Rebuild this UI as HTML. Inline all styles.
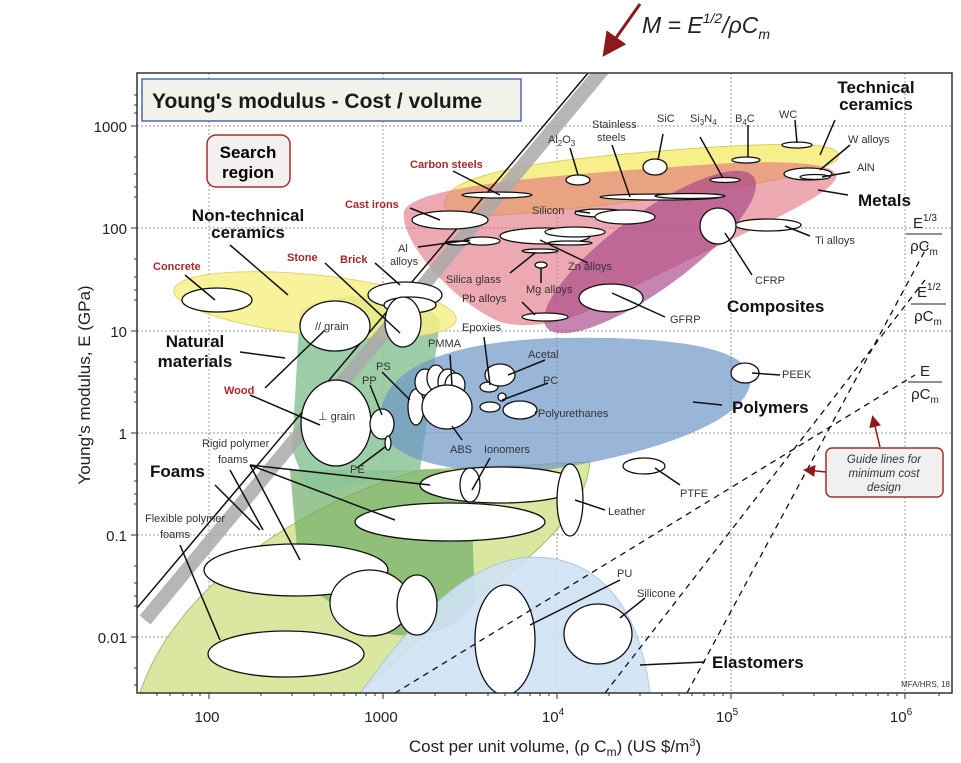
<!DOCTYPE html>
<html><head><meta charset="utf-8"><style>
body{margin:0;background:#fff}
svg{display:block;font-family:"Liberation Sans",sans-serif}
.l{font-size:11px;fill:#333}
.r{font-size:11px;fill:#a52a2a;font-weight:bold}
.b{font-size:17px;font-weight:bold;fill:#111}
.e{fill:#fff;stroke:#111;stroke-width:1.3}
.ld{stroke:#111;stroke-width:1.5;fill:none}
.g{stroke:#999;stroke-width:1;stroke-dasharray:2,2}
.d{stroke:#111;stroke-width:1.3;stroke-dasharray:6,5;fill:none}
</style></head><body>
<svg width="961" height="763" viewBox="0 0 961 763">
<defs><clipPath id="c"><rect x="137" y="73" width="815" height="620"/></clipPath>
<marker id="ar" markerWidth="8" markerHeight="8" refX="6" refY="4" orient="auto"><path d="M0,0 L8,4 L0,8 Z" fill="#8b1a1a"/></marker></defs>
<g class="g">
<line x1="209" y1="73" x2="209" y2="693"/><line x1="383" y1="73" x2="383" y2="693"/><line x1="557" y1="73" x2="557" y2="693"/><line x1="731" y1="73" x2="731" y2="693"/><line x1="905" y1="73" x2="905" y2="693"/>
<line x1="137" y1="126" x2="952" y2="126"/><line x1="137" y1="228" x2="952" y2="228"/><line x1="137" y1="331" x2="952" y2="331"/><line x1="137" y1="433" x2="952" y2="433"/><line x1="137" y1="535" x2="952" y2="535"/><line x1="137" y1="637" x2="952" y2="637"/>
</g>
<g clip-path="url(#c)">
<!-- foams -->
<path d="M140,693 C170,600 280,510 420,470 L590,462 C585,520 520,570 430,630 L360,693 Z" fill="#d6e597" stroke="#9bb36a" opacity="0.9"/>
<path d="M290,470 L470,470 L475,600 C460,640 380,650 340,610 L300,580 Z" fill="#6fae68" opacity="0.7"/>
<!-- elastomers -->
<path d="M360,693 C400,640 450,570 520,558 C600,550 640,610 650,693 Z" fill="#cfe2f5" stroke="#a8c4e0" opacity="0.9"/>
<!-- natural -->
<path d="M300,310 C330,290 420,290 440,320 L430,400 L420,470 L310,495 L292,450 Z" fill="#8cc497" opacity="0.85"/>
<!-- non-tech ceramics -->
<ellipse cx="315" cy="305" rx="142" ry="30" transform="rotate(6 315 305)" fill="#f7f08a" opacity="0.85" stroke="#d8cf60"/>
<!-- polymers -->
<path d="M380,420 C380,360 470,340 560,338 C660,336 760,345 750,385 C740,430 620,460 545,470 L470,470 C420,465 380,450 380,420 Z" fill="#6e95c8" opacity="0.7"/>
<!-- technical ceramics / metals -->
<path d="M445,200 C455,170 560,158 700,148 C790,142 845,142 838,158 C830,175 700,195 560,210 C480,218 440,220 445,200 Z" fill="#f7f08a" stroke="#d8cf60"/>
<path d="M404,212 C410,185 560,175 700,165 C800,158 845,165 835,180 C820,205 700,250 600,305 C570,322 530,330 500,322 C450,300 400,240 404,212 Z" fill="#e0707e" opacity="0.6"/>
<ellipse cx="650" cy="252" rx="128" ry="38" transform="rotate(-36 650 252)" fill="#a84385" opacity="0.65"/>
<!-- band -->
<line x1="145" y1="620" x2="604" y2="68" stroke="#aaa" stroke-width="14" opacity="0.85"/>
<line x1="137" y1="608" x2="594" y2="66" stroke="#111" stroke-width="1.5"/>
<!-- ellipses -->
<g class="e">
<ellipse cx="578" cy="180" rx="12" ry="5"/><ellipse cx="655" cy="167" rx="12" ry="8"/><ellipse cx="725" cy="180" rx="15" ry="2.5"/><ellipse cx="746" cy="160" rx="14" ry="3"/><ellipse cx="797" cy="145" rx="15" ry="3"/>
<ellipse cx="808" cy="174" rx="24" ry="6"/><ellipse cx="815" cy="177" rx="15" ry="2.5"/>
<ellipse cx="497" cy="195" rx="35" ry="3"/><ellipse cx="660" cy="197" rx="60" ry="3"/><ellipse cx="690" cy="196" rx="35" ry="2.5"/>
<ellipse cx="600" cy="213" rx="25" ry="4"/><ellipse cx="625" cy="217" rx="30" ry="7"/>
<ellipse cx="450" cy="220" rx="38" ry="9"/><ellipse cx="482" cy="241" rx="18" ry="4"/><ellipse cx="458" cy="243" rx="12" ry="2"/>
<ellipse cx="545" cy="236" rx="45" ry="8"/><ellipse cx="575" cy="232" rx="30" ry="5"/><ellipse cx="570" cy="243" rx="22" ry="2"/>
<ellipse cx="540" cy="251" rx="18" ry="2"/><ellipse cx="541" cy="265" rx="6" ry="3"/><ellipse cx="545" cy="317" rx="23" ry="4"/>
<ellipse cx="611" cy="298" rx="32" ry="14"/><ellipse cx="768" cy="225" rx="33" ry="6"/><ellipse cx="718" cy="226" rx="18" ry="18"/>
<ellipse cx="745" cy="373" rx="14" ry="10"/>
<ellipse cx="217" cy="300" rx="35" ry="12"/><ellipse cx="405" cy="295" rx="37" ry="13"/><ellipse cx="410" cy="305" rx="26" ry="8"/><ellipse cx="403" cy="322" rx="18" ry="25"/>
<ellipse cx="335" cy="326" rx="35" ry="25"/><ellipse cx="336" cy="423" rx="35" ry="43"/>
<ellipse cx="382" cy="424" rx="12" ry="15"/><ellipse cx="388" cy="443" rx="3" ry="7"/><ellipse cx="416" cy="407" rx="8" ry="18"/>
<ellipse cx="425" cy="382" rx="10" ry="13"/><ellipse cx="436" cy="378" rx="9" ry="13"/><ellipse cx="448" cy="382" rx="10" ry="13"/><ellipse cx="455" cy="385" rx="10" ry="12"/>
<ellipse cx="447" cy="407" rx="25" ry="22"/><ellipse cx="489" cy="387" rx="9" ry="5"/><ellipse cx="502" cy="397" rx="4" ry="4"/>
<ellipse cx="500" cy="375" rx="15" ry="11"/><ellipse cx="490" cy="407" rx="10" ry="5"/><ellipse cx="520" cy="410" rx="17" ry="9"/>
<ellipse cx="644" cy="466" rx="21" ry="8"/>
<ellipse cx="500" cy="485" rx="80" ry="18"/><ellipse cx="470" cy="485" rx="10" ry="17"/><ellipse cx="570" cy="500" rx="13" ry="36"/>
<ellipse cx="450" cy="522" rx="95" ry="19"/><ellipse cx="296" cy="570" rx="92" ry="26"/>
<ellipse cx="370" cy="603" rx="40" ry="33"/><ellipse cx="417" cy="605" rx="20" ry="30"/><ellipse cx="286" cy="654" rx="78" ry="23"/>
<ellipse cx="505" cy="640" rx="30" ry="55"/><ellipse cx="598" cy="634" rx="34" ry="30"/>
</g>
<!-- guide lines -->
<line class="d" x1="395" y1="693" x2="915" y2="375"/>
<line class="d" x1="605" y1="693" x2="925" y2="280"/>
<line class="d" x1="687" y1="693" x2="928" y2="245"/>
</g>
<rect x="137" y="73" width="815" height="620" fill="none" stroke="#333" stroke-width="1.5"/>
<!-- ticks -->
<g stroke="#333" stroke-width="1">
<path d="M137,126h-6M137,228h-6M137,331h-6M137,433h-6M137,535h-6M137,637h-6"/>
<path d="M209,693v6M383,693v6M557,693v6M731,693v6M905,693v6"/>
<path d="M157,693v3M170,693v3M183,693v3M192,693v3M200,693v3M261,693v3M292,693v3M314,693v3M331,693v3M344,693v3M356,693v3M366,693v3M375,693v3M435,693v3M466,693v3M488,693v3M505,693v3M518,693v3M530,693v3M540,693v3M549,693v3M609,693v3M640,693v3M662,693v3M679,693v3M692,693v3M704,693v3M714,693v3M723,693v3M783,693v3M814,693v3M836,693v3M853,693v3M866,693v3M878,693v3M888,693v3M897,693v3M939,693v3"/>
<path d="M137,95h-3M137,105h-3M137,113h-3M137,157h-3M137,174h-3M137,187h-3M137,197h-3M137,259h-3M137,277h-3M137,290h-3M137,300h-3M137,362h-3M137,379h-3M137,392h-3M137,402h-3M137,464h-3M137,481h-3M137,494h-3M137,504h-3M137,566h-3M137,583h-3M137,596h-3M137,606h-3M137,668h-3M137,685h-3"/>
</g>
<g font-size="15" fill="#222" text-anchor="end">
<text x="127" y="132">1000</text><text x="127" y="234">100</text><text x="127" y="337">10</text><text x="127" y="439">1</text><text x="127" y="541">0.1</text><text x="127" y="643">0.01</text>
</g>
<g font-size="15" fill="#222" text-anchor="middle">
<text x="207" y="722">100</text><text x="381" y="722">1000</text><text x="553" y="722">10<tspan dy="-7" font-size="10">4</tspan></text><text x="727" y="722">10<tspan dy="-7" font-size="10">5</tspan></text><text x="901" y="722">10<tspan dy="-7" font-size="10">6</tspan></text>
</g>
<text x="555" y="752" font-size="17" fill="#222" text-anchor="middle">Cost per unit volume, (ρ C<tspan font-size="12" dy="4">m</tspan><tspan dy="-4">)    (US $/m</tspan><tspan font-size="11" dy="-6">3</tspan><tspan dy="6">)</tspan></text>
<text transform="translate(90,385) rotate(-90)" font-size="17" fill="#222" text-anchor="middle">Young's modulus, E (GPa)</text>
<!-- top arrow & formula -->
<line x1="640" y1="4" x2="606" y2="52" stroke="#8b1a1a" stroke-width="3" marker-end="url(#ar)"/>
<text x="642" y="33" font-size="23" fill="#222" font-style="italic">M = E<tspan font-size="14" dy="-10">1/2</tspan><tspan dy="10">/ρC</tspan><tspan font-size="14" dy="6">m</tspan></text>
<!-- title -->
<rect x="142" y="79" width="379" height="42" fill="#f2f2ea" stroke="#4a6ab0" stroke-width="1.5"/>
<text x="152" y="108" font-size="21" font-weight="bold" fill="#1a1a1a">Young's modulus - Cost / volume</text>
<rect x="207" y="135" width="83" height="52" rx="9" fill="#f4f0f0" stroke="#a03030" stroke-width="1.5"/>
<text x="248" y="158" font-size="17" font-weight="bold" text-anchor="middle">Search</text><text x="248" y="178" font-size="17" font-weight="bold" text-anchor="middle">region</text>
<!-- leaders -->
<g class="ld">
<path d="M453,171L500,195M410,208L440,220M418,247L470,240M325,263L400,333M375,263L400,285M185,275L215,300M230,245L288,295M240,352L285,358M265,388L325,330M250,395L320,425M370,385L382,415M382,372L410,400M357,468L385,447M450,355L452,385M484,337L490,385M545,360L508,375M548,383L502,400M535,413L537,411M462,440L452,426M490,458L472,490M250,465L430,485M250,465L395,520M250,465L300,560M230,470L263,530M215,485L260,530M180,545L220,640M605,510L575,500M680,485L655,468M620,580L530,625M645,598L620,618M640,665L705,662M693,402L722,405M780,375L752,373M752,275L725,233M665,317L612,293M810,236L785,226M848,195L818,190M835,120L820,155M850,145L820,170M850,172L822,177M795,120L797,143M748,125L748,157M700,137L723,178M663,134L658,160M612,145L630,197M570,148L578,175M575,211L590,213M588,263L540,240M510,273L535,253M541,268L541,283M522,302L535,315"/>
</g>
<!-- labels -->
<text class="r" x="410" y="168">Carbon steels</text><text class="r" x="345" y="208">Cast irons</text>
<text class="l" x="398" y="252">Al</text><text class="l" x="390" y="265">alloys</text>
<text class="r" x="287" y="261">Stone</text><text class="r" x="340" y="263">Brick</text><text class="r" x="153" y="270">Concrete</text>
<text class="b" x="248" y="221" text-anchor="middle">Non-technical</text><text class="b" x="248" y="238" text-anchor="middle">ceramics</text>
<text class="b" x="195" y="347" text-anchor="middle">Natural</text><text class="b" x="195" y="367" text-anchor="middle">materials</text>
<text class="r" x="224" y="394">Wood</text>
<text class="l" x="315" y="330" font-size="12">// grain</text><text class="l" x="318" y="420" font-size="12">⊥ grain</text>
<text class="l" x="362" y="384">PP</text><text class="l" x="376" y="370">PS</text><text class="l" x="350" y="473">PE</text>
<text class="l" x="428" y="347">PMMA</text><text class="l" x="462" y="331">Epoxies</text><text class="l" x="528" y="358">Acetal</text><text class="l" x="543" y="384">PC</text>
<text class="l" x="538" y="417">Polyurethanes</text><text class="l" x="450" y="453">ABS</text><text class="l" x="484" y="453">Ionomers</text>
<text class="l" x="202" y="447" font-size="10.5">Rigid polymer</text><text class="l" x="218" y="463" font-size="10.5">foams</text>
<text class="b" x="150" y="477">Foams</text>
<text class="l" x="145" y="522" font-size="10.5">Flexible polymer</text><text class="l" x="160" y="538" font-size="10.5">foams</text>
<text class="l" x="608" y="515">Leather</text><text class="l" x="680" y="497">PTFE</text>
<text class="l" x="617" y="577">PU</text><text class="l" x="637" y="597">Silicone</text>
<text class="b" x="712" y="668">Elastomers</text><text class="b" x="732" y="413">Polymers</text>
<text class="l" x="782" y="378">PEEK</text><text class="b" x="727" y="312">Composites</text>
<text class="l" x="755" y="284">CFRP</text><text class="l" x="670" y="323">GFRP</text><text class="l" x="815" y="244">Ti alloys</text>
<text class="b" x="858" y="206">Metals</text>
<text class="b" x="876" y="93" text-anchor="middle">Technical</text><text class="b" x="876" y="110" text-anchor="middle">ceramics</text>
<text class="l" x="848" y="143">W alloys</text><text class="l" x="857" y="171">AlN</text><text class="l" x="779" y="118">WC</text>
<text class="l" x="735" y="122">B<tspan dy="3" font-size="8">4</tspan><tspan dy="-3">C</tspan></text>
<text class="l" x="690" y="122">Si<tspan dy="3" font-size="8">3</tspan><tspan dy="-3">N</tspan><tspan dy="3" font-size="8">4</tspan></text>
<text class="l" x="657" y="122">SiC</text><text class="l" x="592" y="128">Stainless</text><text class="l" x="597" y="141">steels</text>
<text class="l" x="548" y="143">Al<tspan dy="3" font-size="8">2</tspan><tspan dy="-3">O</tspan><tspan dy="3" font-size="8">3</tspan></text>
<text class="l" x="532" y="214">Silicon</text><text class="l" x="568" y="270">Zn alloys</text><text class="l" x="446" y="283">Silica glass</text>
<text class="l" x="526" y="293">Mg alloys</text><text class="l" x="462" y="302">Pb alloys</text>
<text x="950" y="687" font-size="8" fill="#333" text-anchor="end">MFA/HRS, 18</text>
<!-- guide labels -->
<g font-size="15" fill="#222" text-anchor="middle">
<text x="925" y="228">E<tspan font-size="10" dy="-7">1/3</tspan></text><line x1="906" y1="234" x2="942" y2="234" stroke="#222"/><text x="924" y="251">ρC<tspan font-size="10" dy="4">m</tspan></text>
<text x="929" y="297">E<tspan font-size="10" dy="-7">1/2</tspan></text><line x1="911" y1="304" x2="946" y2="304" stroke="#222"/><text x="928" y="321">ρC<tspan font-size="10" dy="4">m</tspan></text>
<text x="925" y="376">E</text><line x1="908" y1="382" x2="942" y2="382" stroke="#222"/><text x="925" y="399">ρC<tspan font-size="10" dy="4">m</tspan></text>
</g>
<line x1="880" y1="447" x2="873" y2="418" stroke="#8b1a1a" stroke-width="1.5" marker-end="url(#ar)"/>
<line x1="826" y1="472" x2="806" y2="470" stroke="#8b1a1a" stroke-width="1.5" marker-end="url(#ar)"/>
<rect x="826" y="448" width="117" height="49" rx="6" fill="#f0f0f0" stroke="#a03030" stroke-width="1.5"/>
<g font-size="11.5" font-style="italic" fill="#333" text-anchor="middle">
<text x="884" y="463">Guide lines for</text><text x="884" y="477">minimum cost</text><text x="884" y="491">design</text>
</g>
</svg>
</body></html>
